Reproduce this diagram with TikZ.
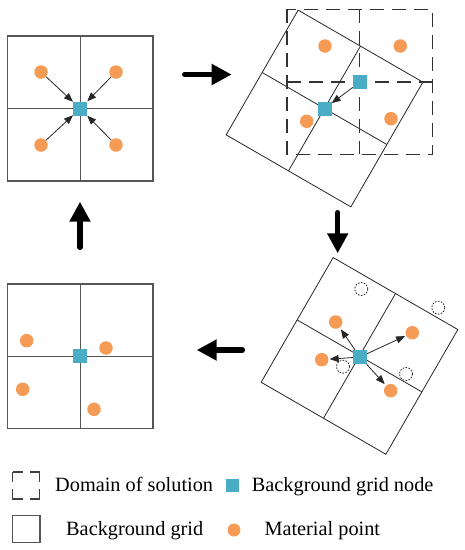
\documentclass[tikz,border=0pt]{standalone}
\usepackage{fontspec}
\setmainfont{Liberation Serif}
\usetikzlibrary{arrows.meta}
\definecolor{mporange}{RGB}{245,155,85}
\definecolor{gridblue}{RGB}{75,172,198}
\definecolor{gridline}{RGB}{85,85,85}
\tikzset{
  mp/.style={circle, fill=mporange, draw=none, minimum size=13.5pt, inner sep=0pt},
  oldmp/.style={circle, draw=black!85, line width=0.8pt, dash pattern=on 1.6pt off 1.4pt, minimum size=13pt, inner sep=0pt},
  gn/.style={rectangle, fill=gridblue, draw=none, minimum size=14pt, inner sep=0pt},
  gridsq/.style={draw=gridline, line width=1.3pt},
  rotgrid/.style={draw=black!85, line width=0.8pt},
  domainline/.style={draw=black!80, line width=1.5pt, dash pattern=on 14pt off 8pt},
  flow/.style={draw=black!85, line width=0.8pt, -{Triangle[length=9pt,width=7pt]}},
  bigarrow/.style={draw=black, line width=5.5pt, line cap=round, -{Triangle[length=20pt,width=20pt]}},
  legdash/.style={draw=black!75, line width=1.3pt, dash pattern=on 20pt off 7pt, dash phase=10pt},
  lbl/.style={anchor=base west, inner sep=0pt, font=\fontsize{20.3pt}{24pt}\selectfont},
  rotframe/.style={x={(0.866pt,-0.5pt)}, y={(-0.5pt,-0.866pt)}}
}
\begin{document}
\begin{tikzpicture}[x=1pt, y=-1pt]
\useasboundingbox (0,0) rectangle (465,550);

% ---------- Panel 1 (top-left) ----------
\draw[gridsq] (7.5,36) rectangle (153,181);
\draw[gridsq] (80.2,36) -- (80.2,181) (7.5,108.5) -- (153,108.5);
\node[gn] (n1) at (80.2,108.5) {};
\node[mp] (a1) at (41,72) {};
\node[mp] (a2) at (116,72) {};
\node[mp] (a3) at (41,145) {};
\node[mp] (a4) at (116,145) {};
\draw[flow] (a1) -- (n1);
\draw[flow] (a2) -- (n1);
\draw[flow] (a3) -- (n1);
\draw[flow] (a4) -- (n1);

% ---------- Panel 2 (top-right) ----------
\begin{scope}[shift={(324.5,108.5)}, rotframe]
  \draw[rotgrid] (-72,-72) -- (72,-72) -- (72,72) -- (-72,72) -- cycle;
  \draw[rotgrid] (0,-72) -- (0,72) (-72,0) -- (72,0);
\end{scope}
\draw[domainline] (287,9.3) rectangle (432.3,154.3);
\draw[domainline] (359.7,9.3) -- (359.7,154.3) (287,82) -- (432.3,82);
\node[mp] (b1) at (325,46) {};
\node[mp] (b2) at (400.3,46) {};
\node[mp] (b3) at (306.7,121.3) {};
\node[mp] (b4) at (391,118.7) {};
\node[gn] (n2a) at (324.5,108.5) {};
\node[gn] (n2b) at (360,82) {};
\draw[flow] (n2b) -- (n2a);

% ---------- Panel 3 (bottom-right) ----------
\begin{scope}[shift={(359.5,355.9)}, rotframe]
  \draw[rotgrid] (-72,-72) -- (72,-72) -- (72,72) -- (-72,72) -- cycle;
  \draw[rotgrid] (0,-72) -- (0,72) (-72,0) -- (72,0);
\end{scope}
\node[oldmp] (o1) at (361.3,289) {};
\node[oldmp] (o2) at (438.3,307.7) {};
\node[oldmp] (o3) at (343,366.7) {};
\node[oldmp] (o4) at (406,374) {};
\node[mp] (c1) at (335.7,322) {};
\node[mp] (c2) at (412.3,332.7) {};
\node[mp] (c3) at (321.7,359.7) {};
\node[mp] (c4) at (390.7,390.7) {};
\node[gn] (n3) at (360,357) {};
\draw[flow, shorten >=2pt] (n3) -- (c1);
\draw[flow, shorten >=1pt] (n3) -- (c2);
\draw[flow, shorten >=1pt] (n3) -- (c3);
\draw[flow, shorten >=2pt] (n3) -- (c4);

% ---------- Panel 4 (bottom-left) ----------
\draw[gridsq] (7.5,284) rectangle (153,428.5);
\draw[gridsq] (80.2,284) -- (80.2,428.5) (7.5,356.2) -- (153,356.2);
\node[mp] (d1) at (26.7,340.7) {};
\node[mp] (d2) at (106,348) {};
\node[mp] (d3) at (22.7,389.3) {};
\node[mp] (d4) at (94,409.3) {};
\node[gn] (n4) at (80,356) {};

% ---------- Big process arrows ----------
\coordinate (r0) at (184.7,74.5);
\coordinate (r1) at (231.7,74.5);
\coordinate (dn0) at (337.7,212.7);
\coordinate (dn1) at (337.7,253.3);
\coordinate (l0) at (242.3,350);
\coordinate (l1) at (196.7,350);
\coordinate (u0) at (80,247.3);
\coordinate (u1) at (80,201.7);
\draw[bigarrow] (r0) -- (r1);
\draw[bigarrow] (dn0) -- (dn1);
\draw[bigarrow] (l0) -- (l1);
\draw[bigarrow] (u0) -- (u1);

% ---------- Legend ----------
\draw[legdash] (12.7,472) rectangle (39.7,499);
\draw[gridsq] (12.7,515.7) rectangle (40,542.3);
\node[gn, minimum size=13pt] (lgn) at (232.7,485.7) {};
\node[mp, minimum size=13pt] (lmp) at (234,530) {};
\node[lbl] (t1) at (55,491.7) {Domain of solution};
\node[lbl] (t2) at (251.7,491.7) {Background grid node};
\node[lbl] (t3) at (66,535) {Background grid};
\node[lbl] (t4) at (264.3,535) {Material point};
\end{tikzpicture}
\end{document}
